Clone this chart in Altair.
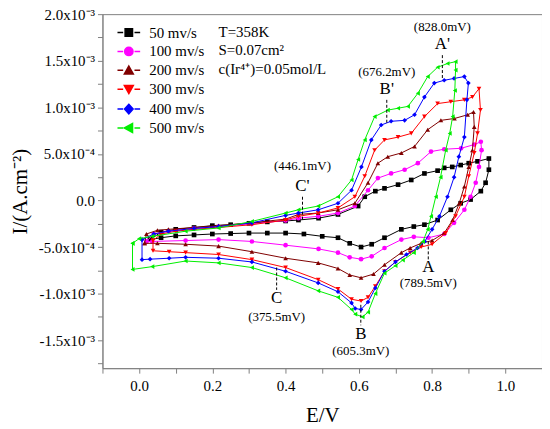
import altair as alt
import pandas as pd

FONT = "Liberation Serif"

series = ["50 mv/s", "100 mv/s", "200 mv/s", "300 mv/s", "400 mv/s", "500 mv/s"]
colors = ["#000000", "#ff00ff", "#800000", "#ff0000", "#0000ff", "#00ee00"]
shapes = ["square", "circle", "triangle-up", "triangle-down", "diamond", "triangle-left"]

# E in V, I in units of 1e-4 A/cm2, listed around each loop (forward then reverse)
E_50 = [0.03, 0.06, 0.10, 0.15, 0.20, 0.25, 0.30, 0.35, 0.40, 0.435, 0.49, 0.543, 0.598, 0.616,
        0.645, 0.67, 0.707, 0.743, 0.779, 0.815, 0.833, 0.855, 0.878, 0.90, 0.924, 0.955,
        0.955, 0.946, 0.933, 0.905, 0.878, 0.851, 0.815, 0.779, 0.75, 0.716, 0.67, 0.635, 0.606,
        0.575, 0.543, 0.50, 0.45, 0.40, 0.35, 0.30, 0.25, 0.20, 0.15, 0.10, 0.06, 0.03]
I_50 = [-4.2, -3.4, -3.1, -2.9, -2.7, -2.6, -2.45, -2.3, -2.2, -2.1, -1.9, -1.5, -0.6, 0.4,
        1.0, 1.3, 1.7, 2.2, 2.9, 3.2, 3.5, 3.6, 3.8, 4.0, 4.2, 4.5,
        3.3, 1.9, 1.0, 0.1, -0.3, -1.0, -2.1, -2.6, -2.8, -3.1, -4.0, -4.7, -5.0,
        -4.6, -4.0, -3.85, -3.6, -3.5, -3.5, -3.5, -3.55, -3.6, -3.7, -3.8, -4.0, -4.2]

E_100 = [0.02, 0.04, 0.08, 0.15, 0.217, 0.308, 0.40, 0.435, 0.489, 0.543, 0.589, 0.625, 0.652,
         0.688, 0.725, 0.761, 0.797, 0.833, 0.879, 0.915, 0.933,
         0.935, 0.928, 0.919, 0.905, 0.888, 0.86, 0.833, 0.79, 0.75, 0.716, 0.67, 0.635, 0.606,
         0.575, 0.543, 0.49, 0.40, 0.308, 0.217, 0.127, 0.036, 0.02]
I_100 = [-4.4, -3.6, -3.3, -3.0, -2.8, -2.5, -2.15, -1.9, -1.7, -1.35, -0.6, 1.1, 2.4,
         2.9, 3.3, 4.0, 5.25, 5.5, 5.6, 6.0, 6.3,
         5.4, 3.6, 1.9, 0.4, -1.0, -2.4, -3.6, -4.0, -3.9, -4.2, -5.1, -6.0, -6.3,
         -6.1, -5.6, -5.2, -4.8, -4.4, -4.2, -4.3, -4.4, -4.4]

E_200 = [0.015, 0.02, 0.05, 0.08, 0.15, 0.217, 0.308, 0.40, 0.435, 0.489, 0.543, 0.589, 0.625,
         0.652, 0.679, 0.716, 0.752, 0.788, 0.824, 0.861, 0.897, 0.913,
         0.915, 0.91, 0.90, 0.888, 0.874, 0.856, 0.833, 0.80, 0.77, 0.74, 0.716, 0.67, 0.64,
         0.606, 0.575, 0.543, 0.489, 0.40, 0.308, 0.217, 0.127, 0.05, 0.015]
I_200 = [-4.6, -3.6, -3.2, -3.1, -2.9, -2.7, -2.4, -2.0, -1.5, -1.35, -1.0, -0.3, 1.9,
         4.0, 4.7, 5.1, 5.8, 7.6, 8.6, 8.8, 9.2, 9.5,
         7.9, 5.4, 3.6, 1.5, -0.3, -2.1, -3.5, -4.3, -4.6, -5.1, -5.6, -6.9, -7.9,
         -8.3, -8.0, -7.3, -6.7, -6.2, -5.5, -4.9, -4.7, -4.6, -4.6]

E_300 = [0.038, 0.06, 0.10, 0.15, 0.217, 0.308, 0.40, 0.435, 0.489, 0.543, 0.589, 0.616, 0.643,
         0.67, 0.707, 0.743, 0.779, 0.815, 0.851, 0.888, 0.91, 0.928,
         0.932, 0.924, 0.915, 0.90, 0.888, 0.864, 0.837, 0.80, 0.77, 0.74, 0.70, 0.67, 0.645,
         0.625, 0.606, 0.58, 0.543, 0.489, 0.40, 0.308, 0.217, 0.127, 0.082, 0.038, 0.038]
I_300 = [-4.3, -3.6, -3.3, -3.1, -2.9, -2.6, -2.1, -1.7, -1.35, -0.8, 0.4, 2.6, 5.4,
         6.5, 6.8, 7.2, 9.0, 10.4, 10.6, 10.8, 11.1, 12.0,
         9.7, 7.2, 5.1, 2.6, 0.4, -1.7, -3.5, -4.7, -5.0, -5.6, -6.6, -7.6, -9.2,
         -10.4, -10.8, -10.6, -9.5, -8.5, -7.2, -6.35, -5.8, -5.6, -5.5, -5.4, -4.3]

E_400 = [0.008, 0.04, 0.08, 0.15, 0.217, 0.308, 0.40, 0.435, 0.489, 0.543, 0.58, 0.607, 0.634,
         0.661, 0.688, 0.725, 0.752, 0.779, 0.806, 0.833, 0.86, 0.888, 0.899,
         0.895, 0.888, 0.873, 0.86, 0.842, 0.82, 0.80, 0.78, 0.76, 0.73, 0.70, 0.67, 0.645,
         0.625, 0.606, 0.59, 0.58, 0.543, 0.489, 0.40, 0.308, 0.217, 0.127, 0.082, 0.03,
         0.008, 0.008]
I_400 = [-4.2, -3.6, -3.3, -3.0, -2.8, -2.4, -1.6, -1.35, -1.0, -0.3, 1.1, 3.6, 6.5,
         8.1, 8.5, 8.6, 9.2, 11.1, 12.6, 12.9, 13.1, 13.3, 12.6,
         10.8, 6.8, 4.7, 2.5, 0.4, -1.7, -3.1, -4.4, -5.1, -5.8, -6.6, -7.6, -9.4,
         -10.9, -11.7, -11.6, -11.0, -9.8, -8.85, -7.6, -6.6, -6.2, -6.1, -6.2, -6.3,
         -6.35, -4.2]

E_500 = [-0.018, 0.0, 0.036, 0.127, 0.217, 0.308, 0.40, 0.435, 0.489, 0.543, 0.58, 0.598,
         0.616, 0.643, 0.679, 0.707, 0.734, 0.761, 0.788, 0.815, 0.842, 0.864,
         0.864, 0.862, 0.856, 0.848, 0.837, 0.823, 0.81, 0.797, 0.788, 0.775, 0.75, 0.72,
         0.70, 0.67, 0.645, 0.625, 0.61, 0.59, 0.58, 0.543, 0.489, 0.40, 0.308, 0.217,
         0.127, 0.036, -0.018, -0.018]
I_500 = [-4.6, -4.1, -3.85, -3.3, -2.95, -2.25, -1.35, -1.0, -0.6, 0.4, 2.2, 4.4,
         6.5, 9.0, 9.7, 9.9, 10.1, 11.5, 13.3, 14.3, 14.7, 14.9,
         14.0, 11.8, 9.0, 7.2, 5.4, 2.5, 0.4, -1.7, -3.1, -4.4, -5.6, -6.4,
         -7.0, -7.8, -10.0, -12.0, -12.5, -12.2, -11.7, -10.4, -9.7, -8.3, -7.2, -6.7,
         -6.5, -7.1, -7.4, -4.6]

E_all = [E_50, E_100, E_200, E_300, E_400, E_500]
I_all = [I_50, I_100, I_200, I_300, I_400, I_500]

# Peak annotations
ann_letters = ["A'", "B'", "C'", "C", "B", "A"]
ann_values = ["(828.0mV)", "(676.2mV)", "(446.1mV)", "(375.5mV)", "(605.3mV)", "(789.5mV)"]
ann_E = [0.828, 0.6762, 0.4461, 0.3755, 0.6053, 0.7895]
letter_I = [16.8, 12.0, 1.6, -10.5, -14.3, -7.1]
value_I = [18.6, 13.8, 3.7, -12.5, -16.2, -8.9]
rule_top = [15.6, 10.8, 0.4, -7.2, -11.2, -4.4]
rule_bot = [13.1, 8.3, -2.1, -9.6, -13.4, -6.35]

info_lines = ["T=358K", "S=0.07cm²", "c(Ir⁴⁺)=0.05mol/L"]
info_E = [0.217, 0.217, 0.217]
info_I = [18.06, 16.1, 14.1]

x_ticks = [round(-0.1 + 0.1 * k, 1) for k in range(13)]
y_ticks = [-17.5 + 2.5 * k for k in range(16)]
y_text = {-15.0: "-1.5x10⁻³", -10.0: "-1.0x10⁻³", -5.0: "-5.0x10⁻⁴", 0.0: "0.0",
          5.0: "5.0x10⁻⁴", 10.0: "1.0x10⁻³", 15.0: "1.5x10⁻³", 20.0: "2.0x10⁻³"}
y_expr = "".join(
    f"abs(datum.value - ({v})) < 0.01 ? '{t}' : " for v, t in y_text.items()
) + "''"

X = alt.X("E:Q", scale=alt.Scale(domain=[-0.1, 1.1], nice=False, zero=False),
          axis=alt.Axis(title="E/V", values=x_ticks, grid=False,
                        labelExpr="(abs(round(datum.value*10)) % 2 == 0 && datum.value > -0.05 && datum.value < 1.05) ? format(datum.value, '.1f') : ''",
                        tickSize=5, labelPadding=5, titlePadding=12, labelFlush=False))
Y = alt.Y("I:Q", scale=alt.Scale(domain=[-18, 20], nice=False, zero=False),
          axis=alt.Axis(title="I/(A.cm⁻²)", values=y_ticks, grid=False, labelExpr=y_expr,
                        tickSize=5, labelPadding=3, titlePadding=8, labelFlush=False,
                        labelOverlap=False))

layers = []
for name, col, shp, es, iv in zip(series, colors, shapes, E_all, I_all):
    d = pd.DataFrame({"E": es, "I": iv, "k": list(range(len(es)))})
    base = alt.Chart(d)
    layers.append(base.mark_line(color=col, strokeWidth=1).encode(x=X, y=Y, order="k:Q"))
    layers.append(base.mark_point(color=col, shape=shp, filled=True, size=22, opacity=1)
                  .encode(x=X, y=Y))

# legend-only layer (no data drawn; legend from explicit scale domains)
legend_paths = [
    "M-1.9,0H-0.95M0.95,0H1.9M-0.62,-0.62H0.62V0.62H-0.62Z",
    "M-1.9,0H-0.95M0.95,0H1.9M0.7,0A0.7,0.7 0 1,1 -0.7,0A0.7,0.7 0 1,1 0.7,0Z",
    "M-1.9,0H-0.95M0.95,0H1.9M0,-0.72L0.75,0.62L-0.75,0.62Z",
    "M-1.9,0H-0.95M0.95,0H1.9M0,0.72L0.75,-0.62L-0.75,-0.62Z",
    "M-1.9,0H-0.95M0.95,0H1.9M0,-0.8L0.72,0L0,0.8L-0.72,0Z",
    "M-1.9,0H-0.95M0.95,0H1.9M-0.75,0L0.62,-0.75L0.62,0.75Z",
]
leg = alt.Legend(title=None, orient="none", legendX=19, legendY=11, labelFont=FONT,
                 labelFontSize=15, labelColor="black", symbolSize=144, symbolStrokeWidth=1.5,
                 symbolOpacity=1, labelOffset=13, rowPadding=3, padding=0, offset=0)
ldf = pd.DataFrame({"series": series, "E": [0.0] * 6, "I": [0.0] * 6})
legend_layer = alt.Chart(ldf).transform_filter("false").mark_point(
    filled=True, strokeWidth=1.5, opacity=1).encode(
    x=X, y=Y,
    fill=alt.Fill("series:N", scale=alt.Scale(domain=series, range=colors), legend=leg),
    stroke=alt.Stroke("series:N", scale=alt.Scale(domain=series, range=colors), legend=leg),
    shape=alt.Shape("series:N", scale=alt.Scale(domain=series, range=legend_paths), legend=leg),
)

rdf = pd.DataFrame({"E": ann_E, "I": rule_top, "I2": rule_bot})
rules = alt.Chart(rdf).mark_rule(color="black", strokeWidth=1, strokeDash=[3, 2]).encode(
    x=X, y=Y, y2="I2:Q")
ldf2 = pd.DataFrame({"E": ann_E, "I": letter_I, "txt": ann_letters})
letters = alt.Chart(ldf2).mark_text(font=FONT, fontSize=17, color="black", baseline="middle").encode(
    x=X, y=Y, text="txt:N")
vdf = pd.DataFrame({"E": ann_E, "I": value_I, "txt": ann_values})
vals = alt.Chart(vdf).mark_text(font=FONT, fontSize=13, color="black", baseline="middle").encode(
    x=X, y=Y, text="txt:N")

idf = pd.DataFrame({"E": info_E, "I": info_I, "txt": info_lines})
info = alt.Chart(idf).mark_text(font=FONT, fontSize=15, color="black", align="left",
                                baseline="middle").encode(x=X, y=Y, text="txt:N")

chart = alt.layer(*layers, rules, letters, vals, info, legend_layer).resolve_scale(
    fill="independent", stroke="independent", shape="independent"
).properties(
    width=442, height=356,
    autosize=alt.AutoSizeParams(type="none"),
    padding={"left": 95, "top": 5, "right": 0, "bottom": 60},
).configure_view(stroke="#808080", strokeWidth=1).configure_axis(
    domainColor="#808080", tickColor="#808080", labelFont=FONT, titleFont=FONT,
    labelFontSize=15, titleFontSize=21, labelColor="black", titleColor="black",
    titleFontWeight="normal",
)

chart.save("out.html", embed_options={"renderer": "svg", "actions": False})
